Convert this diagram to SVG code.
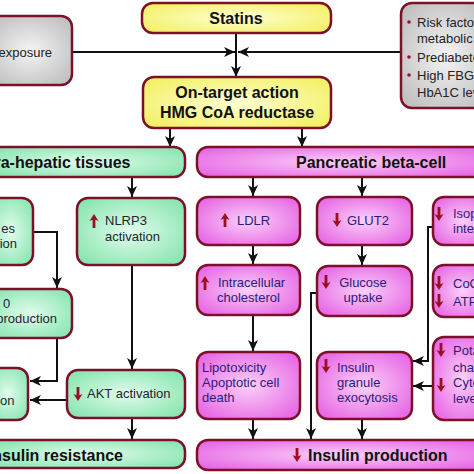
<svg xmlns="http://www.w3.org/2000/svg" width="474" height="474" viewBox="0 0 474 474">
<defs>
<radialGradient id="gGreen" cx="50%" cy="50%" r="65%"><stop offset="0" stop-color="#e2fcec"/><stop offset="1" stop-color="#84e4ae"/></radialGradient>
<radialGradient id="gPink" cx="50%" cy="50%" r="65%"><stop offset="0" stop-color="#fad0f8"/><stop offset="1" stop-color="#e662e4"/></radialGradient>
<radialGradient id="gYellow" cx="50%" cy="50%" r="65%"><stop offset="0" stop-color="#fefed2"/><stop offset="1" stop-color="#f2f060"/></radialGradient>
<radialGradient id="gGray" cx="50%" cy="50%" r="65%"><stop offset="0" stop-color="#f4f4f4"/><stop offset="1" stop-color="#bdbdbd"/></radialGradient>
<marker id="ah" markerUnits="userSpaceOnUse" markerWidth="12" markerHeight="10" refX="11" refY="5" orient="auto"><path d="M0,0 L11,5 L0,10 L3,5 Z" fill="#111"/></marker>
<symbol id="up" viewBox="-5 -7 10 14" width="10" height="14" overflow="visible"><path d="M0,-7 L4.5,0 L1.4,-1.2 L1.4,7 L-1.4,7 L-1.4,-1.2 L-4.5,0 Z" fill="#9b1020"/></symbol>
<symbol id="dn" viewBox="-5 -7 10 14" width="10" height="14" overflow="visible"><path d="M0,7 L4.5,0 L1.4,1.2 L1.4,-7 L-1.4,-7 L-1.4,1.2 L-4.5,0 Z" fill="#9b1020"/></symbol>
</defs>
<style>
rect{stroke:#7d1028;stroke-width:2.5}
.g{fill:url(#gGreen)}
.p{fill:url(#gPink)}
.y{fill:url(#gYellow)}
.gr{fill:url(#gGray)}
text{font-family:"Liberation Sans",Arial,sans-serif;font-size:13px}
.h{font-weight:bold;font-size:16px;fill:#111}
.tg{fill:#1c2630}
.tp{fill:#2e1a7a}
.tk{fill:#222}
.c path{fill:none;stroke:#111;stroke-width:2;marker-end:url(#ah)}
</style>
<rect width="474" height="474" fill="#fff" stroke="none" style="stroke:none"/>

<g id="connectors" class="c">
<path d="M72,52 H235"/>
<path d="M401,52 H238"/>
<path d="M236,33 V77"/>
<path d="M170,128 V147"/>
<path d="M302,128 V147"/>
<path d="M132,177 V197"/>
<path d="M33,232 H57 V288"/>
<path d="M57,338 V381 H30"/>
<path d="M67,400 H30"/>
<path d="M132,265 V369"/>
<path d="M132,418 V439"/>
<path d="M253,177 V196"/>
<path d="M362,177 V196"/>
<path d="M253,245 V264"/>
<path d="M362,245 V265"/>
<path d="M253,315 V351"/>
<path d="M253,419 V439"/>
<path d="M317,293 H311 V439"/>
<path d="M362,419 V439"/>
<path d="M433,227 H428 V361 H413"/>
<path d="M433,386 H413"/>
</g>

<g id="statins"><rect class="y" x="142" y="3" width="189" height="30" rx="11"/><text class="h" x="236" y="24" text-anchor="middle">Statins</text></g>
<g id="ontarget"><rect class="y" x="143" y="77" width="188" height="51" rx="11"/><text class="h" x="237" y="98" text-anchor="middle">On-target action</text><text class="h" x="237" y="118" text-anchor="middle">HMG CoA reductase</text></g>
<g id="exposure"><rect class="gr" x="-12" y="16" width="84" height="69" rx="11"/><text class="tk" x="52" y="57" text-anchor="end">exposure</text></g>
<g id="riskfactors"><rect class="gr" x="401" y="3" width="90" height="105" rx="11"/>
<circle cx="409" cy="22" r="1.8" fill="#9b1030"/><circle cx="409" cy="57" r="1.8" fill="#9b1030"/><circle cx="409" cy="75" r="1.8" fill="#9b1030"/>
<text class="tk" x="417" y="27">Risk factors</text><text class="tk" x="417" y="43">metabolic</text><text class="tk" x="417" y="62">Prediabetes</text><text class="tk" x="417" y="80">High FBG</text><text class="tk" x="417" y="97">HbA1C levels</text></g>

<g id="extrahepatic"><rect class="g" x="-12" y="147" width="197" height="30" rx="11"/><text class="h" x="50" y="168" text-anchor="middle">Extra-hepatic tissues</text></g>
<g id="pancreatic"><rect class="p" x="197" y="147" width="290" height="30" rx="11"/><text class="h" x="296" y="168">Pancreatic beta-cell</text></g>

<g id="es-box"><rect class="g" x="-12" y="198" width="45" height="67" rx="11"/><text class="tg" x="15" y="233" text-anchor="end">es</text><text class="tg" x="17" y="248" text-anchor="end">ion</text></g>
<g id="nlrp3"><rect class="g" x="77" y="198" width="108" height="67" rx="11"/><use href="#up" x="89" y="214"/><text class="tg" x="105" y="225">NLRP3</text><text class="tg" x="105" y="241">activation</text></g>
<g id="production-box"><rect class="g" x="-12" y="289" width="84" height="49" rx="11"/><text class="tg" x="3" y="308">0</text><text class="tg" x="57" y="323" text-anchor="end">production</text></g>
<g id="on-box"><rect class="g" x="-12" y="368" width="40" height="52" rx="11"/><text class="tg" x="0" y="405">on</text></g>
<g id="akt"><rect class="g" x="67" y="370" width="118" height="48" rx="11"/><use href="#dn" x="73" y="387"/><text class="tg" x="87" y="398">AKT activation</text></g>
<g id="insulinresistance"><rect class="g" x="-12" y="440" width="197" height="28" rx="11"/><text class="h" x="123" y="461" text-anchor="end">Insulin resistance</text></g>

<g id="ldlr"><rect class="p" x="197" y="197" width="103" height="48" rx="11"/><use href="#up" x="220" y="213"/><text class="tp" x="237" y="225">LDLR</text></g>
<g id="glut2"><rect class="p" x="317" y="197" width="95" height="48" rx="11"/><use href="#dn" x="332" y="213"/><text class="tp" x="347" y="225">GLUT2</text></g>
<g id="isoprenoid"><rect class="p" x="433" y="197" width="60" height="48" rx="11"/><use href="#dn" x="434" y="207"/><text class="tp" x="453" y="218">Isoprenoid</text><text class="tp" x="453" y="233">intermediates</text></g>
<g id="intracellular"><rect class="p" x="197" y="265" width="103" height="50" rx="11"/><use href="#up" x="200" y="276"/><text class="tp" x="218" y="287">Intracellular</text><text class="tp" x="217" y="302">cholesterol</text></g>
<g id="glucose"><rect class="p" x="317" y="266" width="95" height="50" rx="11"/><use href="#dn" x="321" y="275"/><text class="tp" x="363" y="287" text-anchor="middle">Glucose</text><text class="tp" x="363" y="302" text-anchor="middle">uptake</text></g>
<g id="coq10"><rect class="p" x="433" y="265" width="60" height="52" rx="11"/><use href="#dn" x="434" y="276"/><use href="#dn" x="434" y="294"/><text class="tp" x="453" y="288">CoQ10</text><text class="tp" x="453" y="306">ATP</text></g>
<g id="lipotoxicity"><rect class="p" x="197" y="352" width="103" height="67" rx="11"/><text class="tp" x="202" y="372">Lipotoxicity</text><text class="tp" x="202" y="387">Apoptotic cell</text><text class="tp" x="202" y="402">death</text></g>
<g id="exocytosis"><rect class="p" x="317" y="352" width="95" height="67" rx="11"/><use href="#dn" x="321" y="359"/><text class="tp" x="337" y="372">Insulin</text><text class="tp" x="337" y="387">granule</text><text class="tp" x="337" y="402">exocytosis</text></g>
<g id="potassium"><rect class="p" x="433" y="337" width="60" height="83" rx="11"/><use href="#dn" x="436" y="343"/><use href="#dn" x="436" y="378"/><text class="tp" x="453" y="355">Potassium</text><text class="tp" x="453" y="372">channel</text><text class="tp" x="453" y="387">Cytosolic</text><text class="tp" x="453" y="403">levels</text></g>
<g id="insulinproduction"><rect class="p" x="197" y="440" width="290" height="30" rx="11"/><use href="#dn" x="292" y="448"/><text class="h" x="308" y="461">Insulin production</text></g>
</svg>
